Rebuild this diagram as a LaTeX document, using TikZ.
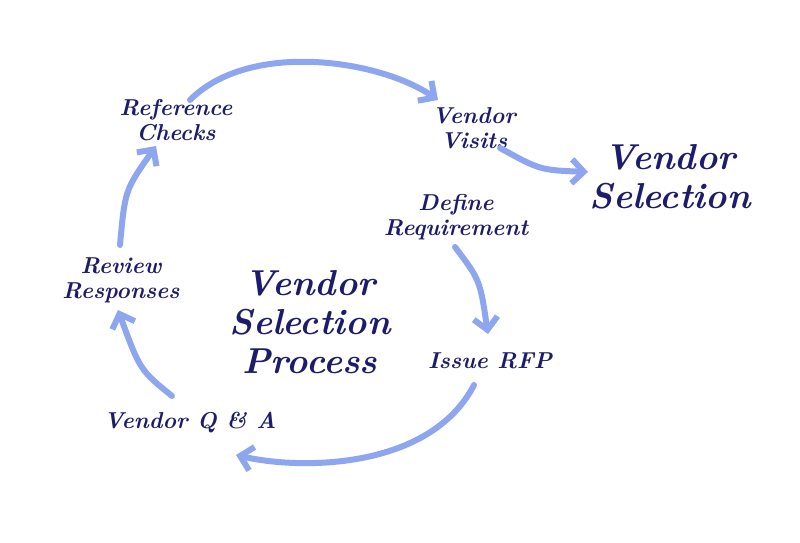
\documentclass[tikz,border=0pt]{standalone}
\usetikzlibrary{arrows.meta}
\definecolor{ink}{HTML}{1C1C6B}
\definecolor{arr}{HTML}{8EA6F0}
\begin{document}
\begin{tikzpicture}[x=1pt,y=-1pt,
  lbl/.style={text=ink,font=\fontsize{23}{25}\selectfont\bfseries\itshape,align=center},
  big/.style={text=ink,font=\fontsize{36}{39}\selectfont\bfseries\itshape,align=center},
  flow/.style={draw=arr,line width=6pt,line cap=round,-{Straight Barb[length=12pt,width=24pt,line width=6pt]}}]
\useasboundingbox[fill=white] (0,0) rectangle (800,542);
\node[lbl] (ref) at (176,120) {Reference\\Checks};
\node[lbl] (vis) at (474,128) {Vendor\\Visits};
\node[big] (vs) at (670,177) {Vendor\\Selection};
\node[lbl] (def) at (456,217) {Define\\Requirement};
\node[lbl] (rev) at (121,280) {Review\\Responses};
\node[big] (vsp) at (310,322) {Vendor\\Selection\\Process};
\node[lbl] (rfp) at (490,361) {Issue RFP};
\node[lbl] (qa) at (190,423) {Vendor Q \& A};
\coordinate (a1) at (120,245); \coordinate (a1e) at (156,146);
\coordinate (a2) at (190,100); \coordinate (a2e) at (438,100);
\coordinate (a3) at (500,148); \coordinate (a3e) at (588,172);
\coordinate (a4) at (455,247); \coordinate (a4e) at (488,334);
\coordinate (a5) at (474,385); \coordinate (a5e) at (236,455);
\coordinate (a6) at (172,396); \coordinate (a6e) at (118,310);
\draw[flow] (a1) .. controls (125,190) .. (a1e);
\draw[flow] (a2) .. controls (250,40) and (380,60) .. (a2e);
\draw[flow] (a3) .. controls (540,170) .. (a3e);
\draw[flow] (a4) .. controls (480,280) .. (a4e);
\draw[flow] (a5) .. controls (430,470) and (300,470) .. (a5e);
\draw[flow] (a6) .. controls (140,370) .. (a6e);
\end{tikzpicture}
\end{document}
